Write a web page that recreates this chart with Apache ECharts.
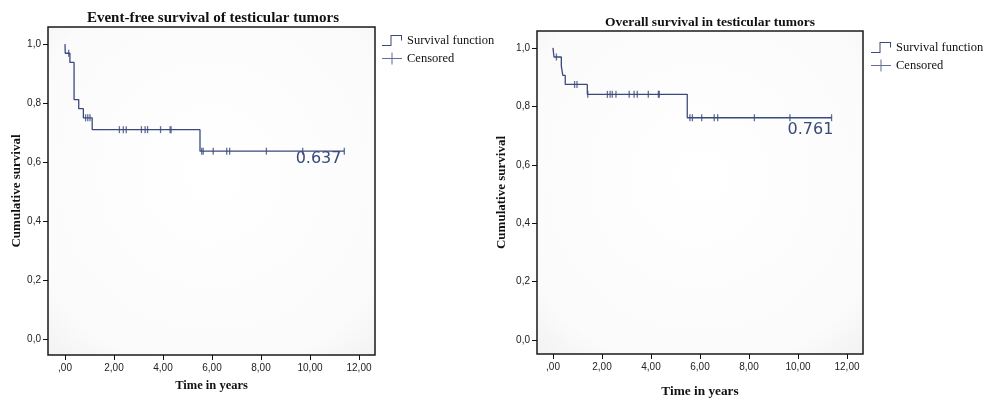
<!DOCTYPE html>
<html>
<head>
<meta charset="utf-8">
<script src="https://cdn.jsdelivr.net/npm/echarts@6/dist/echarts.min.js"></script>
<style>
html,body{margin:0;padding:0;background:#fff;}
#chart{width:986px;height:408px;}
</style>
</head>
<body>
<div id="chart"></div>
<script>
// ---- Data ----
var titles = ['Event-free survival of testicular tumors', 'Overall survival in testicular tumors'];
var xTickValues = [0, 2, 4, 6, 8, 10, 12];
var yTickValues = [0, 0.2, 0.4, 0.6, 0.8, 1.0];

// Event-free survival: step times and survival values
var efsTimes = [0, 0.01, 0.20, 0.37, 0.56, 0.75, 1.11, 5.51, 11.40];
var efsSurv  = [1.0, 0.969, 0.938, 0.812, 0.781, 0.750, 0.710, 0.637, 0.637];
var efsCensored = [0.15, 0.84, 0.93, 1.02, 2.22, 2.38, 2.50, 3.12, 3.27, 3.37, 3.90, 4.29, 4.33,
                   5.58, 5.64, 6.05, 6.60, 6.72, 8.22, 9.70, 11.40];

// Overall survival
var osTimes = [0, 0.04, 0.34, 0.40, 0.50, 1.40, 5.48, 11.37];
var osSurv  = [1.0, 0.969, 0.938, 0.906, 0.875, 0.841, 0.761, 0.761];
var osCensored = [0.14, 0.88, 0.98, 1.42, 2.22, 2.33, 2.42, 2.57, 3.11, 3.31, 3.44, 3.89, 4.30, 4.34,
                  5.59, 5.69, 6.07, 6.58, 6.72, 8.22, 9.67, 11.37];

var efsLabel = '0.637';
var osLabel = '0.761';

// ---- Helpers ----
function pairs(t, s) { return t.map(function (v, i) { return [v, s[i]]; }); }
function survAt(t, s, x) {
  var v = s[0];
  for (var i = 0; i < t.length; i++) { if (t[i] <= x) v = s[i]; }
  return v;
}
function censorPts(t, s, c) { return c.map(function (x) { return [x, survAt(t, s, x)]; }); }

var NAVY = '#3a4a7c';
var serif = 'Liberation Serif';
var sans = 'Liberation Sans';

function xFmt(v) {
  var s = v.toFixed(2).replace('.', ',');
  if (s.indexOf('0,') === 0) s = s.substring(1);
  return s;
}
function yFmt(v) { return v.toFixed(1).replace('.', ','); }

var bg = {
  type: 'radial', x: 0.5, y: 0.45, r: 0.85,
  colorStops: [{offset: 0, color: '#ffffff'}, {offset: 0.7, color: '#fbfbfb'}, {offset: 1, color: '#ececec'}]
};

var iconStep = 'path://M0,10.5H8.5V0.5H20V6H19V1.5H9.5V11.5H0Z';
var iconCens = 'path://M0,5.5H20V6.5H0Z M9.5,0H10.5V12H9.5Z';

function xAxisCfg(gi, min, max, nameGap, nameSize) {
  return {
    type: 'value', gridIndex: gi, min: min, max: max,
    name: 'Time in years', nameLocation: 'middle', nameGap: nameGap,
    nameTextStyle: {fontFamily: serif, fontWeight: 'bold', fontSize: nameSize, color: '#111'},
    axisLine: {show: false, onZero: false},
    splitLine: {show: false},
    axisTick: {show: true, length: 5, lineStyle: {color: '#111', width: 1}, customValues: xTickValues},
    axisLabel: {show: true, margin: 8, fontFamily: sans, fontSize: 10, color: '#222', customValues: xTickValues, formatter: xFmt}
  };
}
function yAxisCfg(gi, min, max, nameGap) {
  return {
    type: 'value', gridIndex: gi, min: min, max: max,
    name: 'Cumulative survival', nameLocation: 'middle', nameGap: nameGap,
    nameTextStyle: {fontFamily: serif, fontWeight: 'bold', fontSize: 13, color: '#111'},
    axisLine: {show: false, onZero: false},
    splitLine: {show: false},
    axisTick: {show: true, length: 5, lineStyle: {color: '#111', width: 1}, customValues: yTickValues},
    axisLabel: {show: true, margin: 7, fontFamily: sans, fontSize: 10, color: '#222', customValues: yTickValues, formatter: yFmt}
  };
}

function lineSeries(gi, t, s, labelText, labelX, offY) {
  return {
    name: 'Survival function', type: 'line', step: 'end',
    xAxisIndex: gi, yAxisIndex: gi,
    data: pairs(t, s), symbol: 'none', silent: true,
    lineStyle: {color: NAVY, width: 1.3}, itemStyle: {color: NAVY},
    markPoint: {
      symbol: 'circle', symbolSize: 1, itemStyle: {color: 'rgba(0,0,0,0)'},
      data: [{coord: [labelX, s[s.length - 1]]}],
      label: {show: true, position: 'inside', offset: [0, offY], formatter: labelText,
              fontFamily: 'DejaVu Sans', fontSize: 16, color: NAVY}
    }
  };
}
function censSeries(gi, t, s, c) {
  return {
    name: 'Censored', type: 'scatter', xAxisIndex: gi, yAxisIndex: gi,
    data: censorPts(t, s, c), symbol: 'rect', symbolSize: [1.3, 7], silent: true,
    itemStyle: {color: NAVY}
  };
}
function legendCfg(left, top) {
  return {
    left: left, top: top, orient: 'vertical', itemWidth: 20, itemHeight: 12, itemGap: 5,
    selectedMode: false,
    textStyle: {fontFamily: serif, fontSize: 12.5, color: '#111'},
    data: [{name: 'Survival function', icon: iconStep}, {name: 'Censored', icon: iconCens}]
  };
}

var chart = echarts.init(document.getElementById('chart'), null, {renderer: 'canvas'});
chart.setOption({
  animation: false,
  backgroundColor: '#ffffff',
  title: [
    {text: titles[0], left: 208, top: 6, textAlign: 'center',
     textStyle: {fontFamily: serif, fontWeight: 'bold', fontSize: 15, color: '#111'}},
    {text: titles[1], left: 705, top: 11, textAlign: 'center',
     textStyle: {fontFamily: serif, fontWeight: 'bold', fontSize: 13.5, color: '#111'}}
  ],
  legend: [legendCfg(377, 29), legendCfg(866, 36)],
  grid: [
    {left: 48, top: 27, width: 327, height: 328, show: true, borderColor: '#1a1a1a', borderWidth: 1.5, backgroundColor: bg},
    {left: 537, top: 31, width: 326, height: 323, show: true, borderColor: '#1a1a1a', borderWidth: 1.5, backgroundColor: bg}
  ],
  xAxis: [xAxisCfg(0, -0.694, 12.653, 24, 12.5), xAxisCfg(1, -0.653, 12.653, 31, 13.3)],
  yAxis: [yAxisCfg(0, -0.054, 1.058, 24), yAxisCfg(1, -0.048, 1.058, 29)],
  series: [
    lineSeries(0, efsTimes, efsSurv, efsLabel, 10.35, 8),
    censSeries(0, efsTimes, efsSurv, efsCensored),
    lineSeries(1, osTimes, osSurv, osLabel, 10.51, 12),
    censSeries(1, osTimes, osSurv, osCensored)
  ]
});
</script>
</body>
</html>
